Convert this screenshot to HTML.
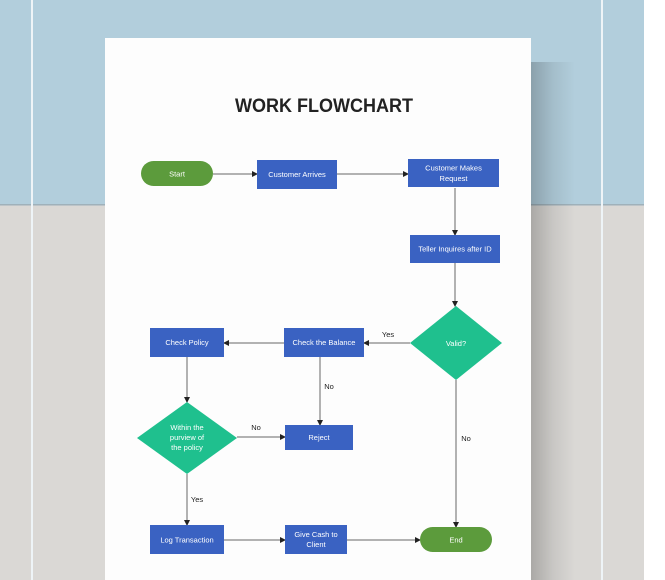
<!DOCTYPE html>
<html><head><meta charset="utf-8"><style>
html,body{margin:0;padding:0;width:665px;height:580px;overflow:hidden;}
svg text{font-family:"Liberation Sans",sans-serif;}
</style></head><body>
<svg width="665" height="580" viewBox="0 0 665 580" xmlns="http://www.w3.org/2000/svg">
<defs>
<linearGradient id="sh" x1="0" x2="1" y1="0" y2="0">
<stop offset="0" stop-color="#000" stop-opacity="0.22"/>
<stop offset="0.5" stop-color="#000" stop-opacity="0.08"/>
<stop offset="1" stop-color="#000" stop-opacity="0"/>
</linearGradient>
<linearGradient id="shv" x1="0" x2="0" y1="0" y2="1">
<stop offset="0" stop-color="#fff" stop-opacity="0"/>
<stop offset="1" stop-color="#fff" stop-opacity="1"/>
</linearGradient>
<marker id="a" markerWidth="6" markerHeight="6" refX="5" refY="3" orient="auto" markerUnits="userSpaceOnUse">
<path d="M0,0 L6,3 L0,6 z" fill="#222"/>
</marker>
</defs>
<rect x="0" y="0" width="665" height="205" fill="#b2cedc"/>
<rect x="0" y="205" width="665" height="375" fill="#dad8d5"/>
<rect x="0" y="204" width="665" height="1.5" fill="#9fb1ba"/>
<rect x="644" y="0" width="21" height="580" fill="#fff"/>
<rect x="31" y="0" width="2" height="580" fill="#eef4f7"/>
<rect x="601" y="0" width="2" height="580" fill="#eef4f7"/>
<rect x="531" y="62" width="44" height="518" fill="url(#sh)"/>
<rect x="105" y="38" width="426" height="542" fill="#fdfdfd"/>
<text x="324" y="112" text-anchor="middle" font-size="19" font-weight="bold" fill="#222" textLength="178" lengthAdjust="spacingAndGlyphs">WORK FLOWCHART</text>
<g stroke="#666" stroke-width="1" fill="none" marker-end="url(#a)">
<line x1="213" y1="174" x2="257" y2="174"/>
<line x1="337" y1="174" x2="408" y2="174"/>
<line x1="455" y1="188" x2="455" y2="235"/>
<line x1="455" y1="263" x2="455" y2="306"/>
<line x1="410" y1="343" x2="364" y2="343"/>
<line x1="284" y1="343" x2="224" y2="343"/>
<line x1="187" y1="357" x2="187" y2="402"/>
<line x1="320" y1="357" x2="320" y2="425"/>
<line x1="237" y1="437" x2="285" y2="437"/>
<line x1="187" y1="474" x2="187" y2="525"/>
<line x1="224" y1="540" x2="285" y2="540"/>
<line x1="347" y1="540" x2="420" y2="540"/>
<line x1="456" y1="380" x2="456" y2="527"/>
</g>
<g font-size="7.5" fill="#fff" text-anchor="middle">
<rect x="141" y="161" width="72" height="25" rx="12.5" fill="#5c9b3c"/>
<text x="177" y="176.5">Start</text>
<rect x="257" y="160" width="80" height="29" fill="#3a62c2"/>
<text x="297" y="177">Customer Arrives</text>
<rect x="408" y="159" width="91" height="28" fill="#3a62c2"/>
<text x="453.5" y="170.5">Customer Makes</text>
<text x="453.5" y="181">Request</text>
<rect x="410" y="235" width="90" height="28" fill="#3a62c2"/>
<text x="455" y="251.5">Teller Inquires after ID</text>
<polygon points="456,306 502,343 456,380 410,343" fill="#1fc08e"/>
<text x="456" y="346">Valid?</text>
<rect x="284" y="328" width="80" height="29" fill="#3a62c2"/>
<text x="324" y="345">Check the Balance</text>
<rect x="150" y="328" width="74" height="29" fill="#3a62c2"/>
<text x="187" y="345">Check Policy</text>
<polygon points="187,402 237,438 187,474 137,438" fill="#1fc08e"/>
<text x="187" y="430">Within the</text>
<text x="187" y="440">purview of</text>
<text x="187" y="450">the policy</text>
<rect x="285" y="425" width="68" height="25" fill="#3a62c2"/>
<text x="319" y="440">Reject</text>
<rect x="150" y="525" width="74" height="29" fill="#3a62c2"/>
<text x="187" y="542.5">Log Transaction</text>
<rect x="285" y="525" width="62" height="29" fill="#3a62c2"/>
<text x="316" y="537">Give Cash to</text>
<text x="316" y="547">Client</text>
<rect x="420" y="527" width="72" height="25" rx="12.5" fill="#5c9b3c"/>
<text x="456" y="542.5">End</text>
</g>
<g font-size="7.5" fill="#222" text-anchor="middle">
<text x="388" y="337">Yes</text>
<text x="329" y="389">No</text>
<text x="256" y="430">No</text>
<text x="466" y="441">No</text>
<text x="197" y="502">Yes</text>
</g>
</svg>
</body></html>
